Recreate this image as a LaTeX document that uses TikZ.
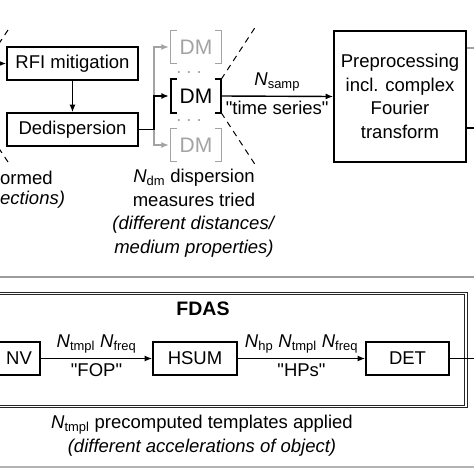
\documentclass[tikz,border=0pt]{standalone}
\usepackage{fontspec}
\setmainfont{Liberation Sans}[Ligatures=TeXOff]
\usepackage{tikz}
\usetikzlibrary{arrows,arrows.meta}
\tikzset{>={Latex[length=7.5pt,width=6pt]}}
\usepackage{xcolor}
\definecolor{lg}{HTML}{A3A3A3}
\definecolor{sepline}{HTML}{9C9C9C}
\definecolor{sepline2}{HTML}{B4B4B4}
\newcommand\Nsym[1]{\textit{N}\textsubscript{#1}}
\newcommand\qt[1]{"#1"}
\tikzstyle{blk}=[draw,line width=1.6pt,inner sep=0pt,minimum height=33pt]
\tikzstyle{dmbox}=[inner sep=0pt,minimum width=50pt,minimum height=33pt,font=\fontsize{21}{21}\selectfont]
\tikzstyle{flow}=[->,line width=1.4pt]
\tikzstyle{txt}=[align=center,inner sep=0pt]
\tikzstyle{zoomline}=[line width=1pt,dash pattern=on 6pt off 5pt]

\begin{document}
\begin{tikzpicture}[x=1pt,y=-1pt,font=\fontsize{18.5}{23.5}\selectfont]
  \path[use as bounding box,clip] (0,0) rectangle (474,474);
  % dedispersion stage
  \node[blk,minimum width=131pt] (rfi) at (72.5,63.5) {RFI mitigation};
  \node[blk,minimum width=131pt] (dedisp) at (72.5,129.5) {Dedispersion};
  \coordinate (in) at (0,63.5);
  \draw[flow] (in) -- (rfi);
  \draw[flow] (rfi) -- (dedisp);
  \draw[zoomline] (8,30) -- ++(-30,45);
  \draw[zoomline] (8,162) -- ++(-30,-45);
  \node[txt,anchor=west] (beamA) at (0,178) {ormed};
  \node[txt,anchor=west] (beamB) at (0,200) {\textit{ections)}};
  % trial DMs
  \node[dmbox,lg] (dmtop) at (196,47) {DM};
  \node[dmbox] (dm) at (196,96) {DM};
  \node[dmbox,lg] (dmbot) at (196,145) {DM};
  \node[lg,inner sep=0pt,anchor=base] (dotsA) at (189,73) {.\hspace{5pt}.\hspace{5pt}.};
  \node[lg,inner sep=0pt,anchor=base] (dotsB) at (189,121) {.\hspace{5pt}.\hspace{5pt}.};
  \foreach \n/\c/\w in {dmtop/lg/1.3pt,dm/black/1.9pt,dmbot/lg/1.3pt}
    \draw[\c,line width=\w] ([xshift=6pt]\n.north west) -- (\n.north west) -- (\n.south west) -- ([xshift=6pt]\n.south west)
      ([xshift=-6pt]\n.north east) -- (\n.north east) -- (\n.south east) -- ([xshift=-6pt]\n.south east);
  \coordinate (split) at (154,96);
  \draw[lg,<->,line width=1.3pt,shorten <=2pt,shorten >=2pt] (dmtop.west) -| (split) |- (dmbot.west);
  \draw[flow,shorten >=2pt] (dedisp.east) -| (split) -- (dm.west);
  \draw[zoomline] (dm.north east) -- ++(34,-52);
  \draw[zoomline] (dm.south east) -- ++(34,52);
  \node[txt] (ndm) at (194,213) {\Nsym{dm} dispersion\\measures tried\\\textit{(different distances/}\\\textit{medium properties)}};
  % preprocessing
  \node[blk,minimum width=132pt,minimum height=131pt,align=center] (prep) at (400,96.5) {Preprocessing\\incl. complex\\Fourier\\transform};
  \draw[flow] (dm.east) -- (prep.west) node[midway,above=1pt] {\Nsym{samp}} node[midway,below=1pt] {\qt{time series}};
  \coordinate (outA) at (474,48);
  \coordinate (outB) at (474,128);
  \draw[lg,line width=1.4pt] (prep.east |- outA) -- (outA);
  \draw[line width=1.4pt] (prep.east |- outB) -- (outB);
  \draw[sepline,line width=1.5pt] (0,277) -- (474,277);
  % FDAS
  \draw[black!85,line width=1pt,double,double distance=1.8pt] (-20,293.5) rectangle (466,406.5);
  \node[font=\fontsize{19.5}{20}\selectfont\bfseries] (fdas) at (203,309) {FDAS};
  \node[blk,minimum width=42pt] (conv) at (19,358.5) {NV};
  \node[blk,minimum width=84pt] (hsum) at (195,358.5) {HSUM};
  \node[blk,minimum width=83pt] (det) at (407.5,358.5) {DET};
  \draw[flow] (conv) -- (hsum) node[midway,above=1pt] {\Nsym{tmpl} \Nsym{freq}} node[midway,below=1pt] {\qt{FOP}};
  \draw[flow] (hsum) -- (det) node[midway,above=1pt] {\Nsym{hp} \Nsym{tmpl} \Nsym{freq}} node[midway,below=1pt] {\qt{HPs}};
  \coordinate (detout) at (474,358.5);
  \draw[line width=1.4pt] (det) -- (detout);
  \node[txt] (tmpl) at (202,435.5) {\Nsym{tmpl} precomputed templates applied\\\textit{(different accelerations of object)}};
  \draw[sepline2,line width=2pt] (0,467) -- (474,467);
\end{tikzpicture}
\end{document}
